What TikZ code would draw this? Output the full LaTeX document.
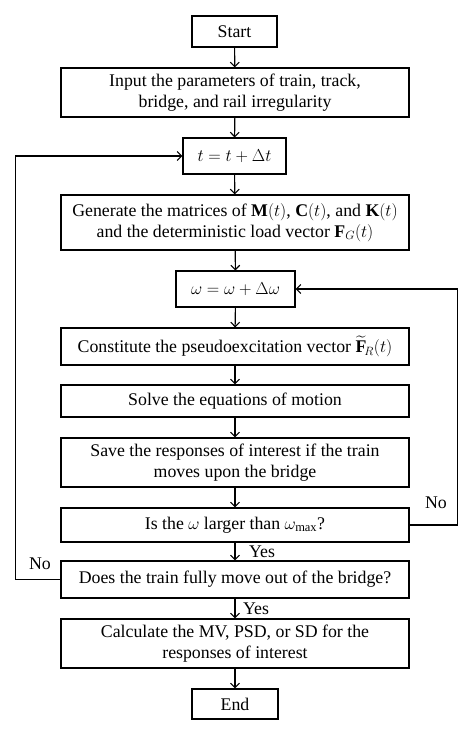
\documentclass[tikz,border=0pt]{standalone}
\usepackage{amsmath}
\usepackage{fontspec}
\setmainfont{Liberation Serif}
\usetikzlibrary{arrows.meta}
\begin{document}
\begin{tikzpicture}[x=1pt,y=-1pt,line width=1.1pt,
    box/.style={draw,minimum width=348pt,inner sep=0pt,align=center,
      font=\fontsize{17.8}{21}\selectfont},
    smallbox/.style={box,minimum width=#1},
    lbl/.style={font=\fontsize{17.8}{21}\selectfont,inner sep=0pt},
    >={Straight Barb[length=4.5pt,width=9pt]}]
    \useasboundingbox (0,0) rectangle (474,736);
    % main column
    \node[smallbox=85pt,minimum height=31pt] (start) at (234.5,31.5) {Start};
    \node[box,minimum height=49pt] (input) at (235,92.5)
      {Input the parameters of train, track,\\bridge, and rail irregularity};
    \node[smallbox=103pt,minimum height=36pt] (tstep) at (234.5,156) {$t=t+\Delta t$};
    \node[box,minimum height=55pt] (gen) at (235,222.5)
      {Generate the matrices of $\mathbf{M}(t)$, $\mathbf{C}(t)$, and $\mathbf{K}(t)$\\
       and the deterministic load vector $\mathbf{F}_G(t)$};
    \node[smallbox=119pt,minimum height=36pt] (wstep) at (235.5,289) {$\omega=\omega+\Delta\omega$};
    \node[box,minimum height=37pt] (pseudo) at (235,346.5)
      {Constitute the pseudoexcitation vector $\widetilde{\mathbf{F}}_{\!R}(t)$};
    \node[box,minimum height=32pt] (solve) at (235,401) {Solve the equations of motion};
    \node[box,minimum height=49pt] (save) at (235,462.5)
      {Save the responses of interest if the train\\moves upon the bridge};
    \node[box,minimum height=34pt] (isw) at (235,525)
      {Is the $\omega$ larger than $\omega_{\mathrm{max}}$?};
    \node[box,minimum height=37pt] (does) at (235,579.5)
      {Does the train fully move out of the bridge?};
    \node[box,minimum height=49pt] (calc) at (235,643.5)
      {Calculate the MV, PSD, or SD for the\\responses of interest};
    \node[smallbox=86pt,minimum height=30pt] (stop) at (235,704) {End};
    % arrows
    \draw[->] (start) -- (input);
    \draw[->] (input) -- (tstep);
    \draw[->] (tstep) -- (gen);
    \draw[->] (gen) -- (wstep);
    \draw[->] (wstep) -- (pseudo);
    \draw[->] (pseudo) -- (solve);
    \draw[->] (solve) -- (save);
    \draw[->] (save) -- (isw);
    \draw[->] (isw) -- (does);
    \draw[->] (does) -- (calc);
    \draw[->] (calc) -- (stop);
    % loops
    \draw[->] (isw.east) -- ++(48,0) |- (wstep.east);
    \draw[->] (does.west) -- ++(-45,0) |- (tstep.west);
    % labels
    \node[lbl] (noright) at (436,503) {No};
    \node[lbl] (noleft) at (40,564) {No};
    \node[lbl] (yesone) at (262,552) {Yes};
    \node[lbl] (yestwo) at (256,609) {Yes};
\end{tikzpicture}
\end{document}
